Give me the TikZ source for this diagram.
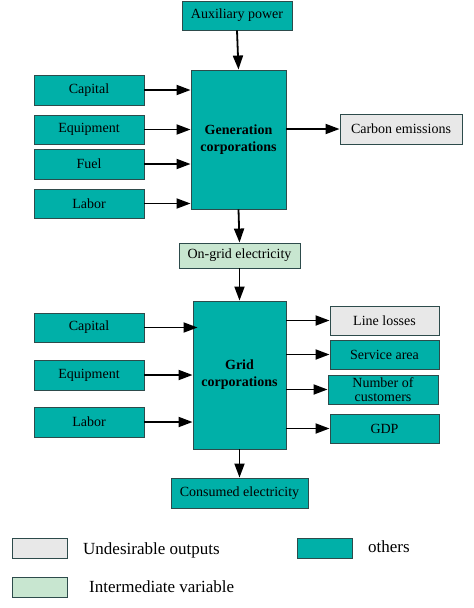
\documentclass[tikz,border=0pt]{standalone}
\usepackage{fontspec}
\setmainfont{Liberation Serif}
\usetikzlibrary{arrows.meta,calc}
\definecolor{tealfill}{RGB}{0,176,168}
\definecolor{greyfill}{RGB}{232,232,232}
\definecolor{greenfill}{RGB}{200,230,208}
\definecolor{edgecol}{RGB}{45,75,75}
\tikzset{
  box/.style={draw=edgecol, line width=0.9pt, inner sep=0pt, align=center,
    font=\fontsize{14}{17}\selectfont, text=black},
  tealbox/.style={box, fill=tealfill},
  greybox/.style={box, fill=greyfill},
  greenbox/.style={box, fill=greenfill},
  arr/.style={line width=1.8pt, -{Triangle[length=14pt,width=10pt]}},
  legtext/.style={anchor=west, inner sep=0pt, font=\fontsize{17}{20}\selectfont, text=black}
}
\begin{document}
\begin{tikzpicture}[x=1pt,y=-1pt]
\useasboundingbox (0,0) rectangle (474,608);
% generation part
\node[tealbox, minimum width=110pt, minimum height=29pt] (aux) at (237,15.5) {Auxiliary power};
\node[tealbox, minimum width=95pt, minimum height=139pt, font=\fontsize{14}{17}\selectfont\bfseries] (gen) at (238.5,139.5) {Generation\\corporations};
\node[tealbox, minimum width=110pt, minimum height=30pt] (cap1) at (89,90) {Capital};
\node[tealbox, minimum width=110pt, minimum height=29pt] (eq1) at (89,129.5) {Equipment};
\node[tealbox, minimum width=110pt, minimum height=30pt] (fuel) at (89,164) {Fuel};
\node[tealbox, minimum width=110pt, minimum height=29pt] (lab1) at (89,203.5) {Labor};
\node[greybox, minimum width=122pt, minimum height=30pt] (carbon) at (401,129) {Carbon emissions};
\node[greenbox, minimum width=121pt, minimum height=25pt] (ongrid) at (239.5,255.5) {On-grid electricity};
% grid part
\node[tealbox, minimum width=93pt, minimum height=148pt, font=\fontsize{14}{17}\selectfont\bfseries] (grid) at (239.5,375) {Grid\\corporations};
\node[tealbox, minimum width=110pt, minimum height=29pt] (cap2) at (89,327.5) {Capital};
\node[tealbox, minimum width=110pt, minimum height=30pt] (eq2) at (89,375) {Equipment};
\node[tealbox, minimum width=110pt, minimum height=30pt] (lab2) at (89,422) {Labor};
\node[greybox, minimum width=109pt, minimum height=29pt] (loss) at (384.5,320.5) {Line losses};
\node[tealbox, minimum width=109pt, minimum height=29pt] (serv) at (384.5,354.5) {Service area};
\node[tealbox, minimum width=110pt, minimum height=29pt, font=\fontsize{14}{14.5}\selectfont] (cust) at (383,389.5) {Number of\\customers};
\node[tealbox, minimum width=109pt, minimum height=29pt] (gdp) at (384.5,428.5) {GDP};
\node[tealbox, minimum width=137pt, minimum height=30pt] (cons) at (239.5,493) {Consumed electricity};
% arrows
\draw[arr] (aux.south) -- (gen.north);
\draw[arr] (cap1.east) -- (cap1.east -| gen.west);
\draw[arr] (eq1.east) -- (eq1.east -| gen.west);
\draw[arr] (fuel.east) -- (fuel.east -| gen.west);
\draw[arr] (lab1.east) -- (lab1.east -| gen.west);
\draw[arr] (gen.east |- carbon.west) -- (carbon.west);
\draw[arr] (gen.south) -- (ongrid.north);
\draw[arr] (ongrid.south) -- (grid.north);
\draw[arr] (cap2.east) -- ($(cap2.east -| grid.west)+(5,0)$);
\draw[arr] (eq2.east) -- (eq2.east -| grid.west);
\draw[arr] (lab2.east) -- (lab2.east -| grid.west);
\draw[arr] (grid.east |- loss.west) -- (loss.west);
\draw[arr] (grid.east |- serv.west) -- (serv.west);
\draw[arr] (grid.east |- cust.west) -- (cust.west);
\draw[arr] (grid.east |- gdp.west) -- (gdp.west);
\draw[arr] (grid.south) -- (cons.north);
% legend
\node[greybox, minimum width=55pt, minimum height=20pt] (lg1) at (39.5,548) {};
\node[tealbox, minimum width=55pt, minimum height=20pt] (lg2) at (324.5,548) {};
\node[greenbox, minimum width=55pt, minimum height=20pt] (lg3) at (39.5,587) {};
\node[legtext] (lt1) at (83,550) {Undesirable outputs};
\node[legtext] (lt2) at (368,547) {others};
\node[legtext] (lt3) at (89,587) {Intermediate variable};
\end{tikzpicture}
\end{document}
